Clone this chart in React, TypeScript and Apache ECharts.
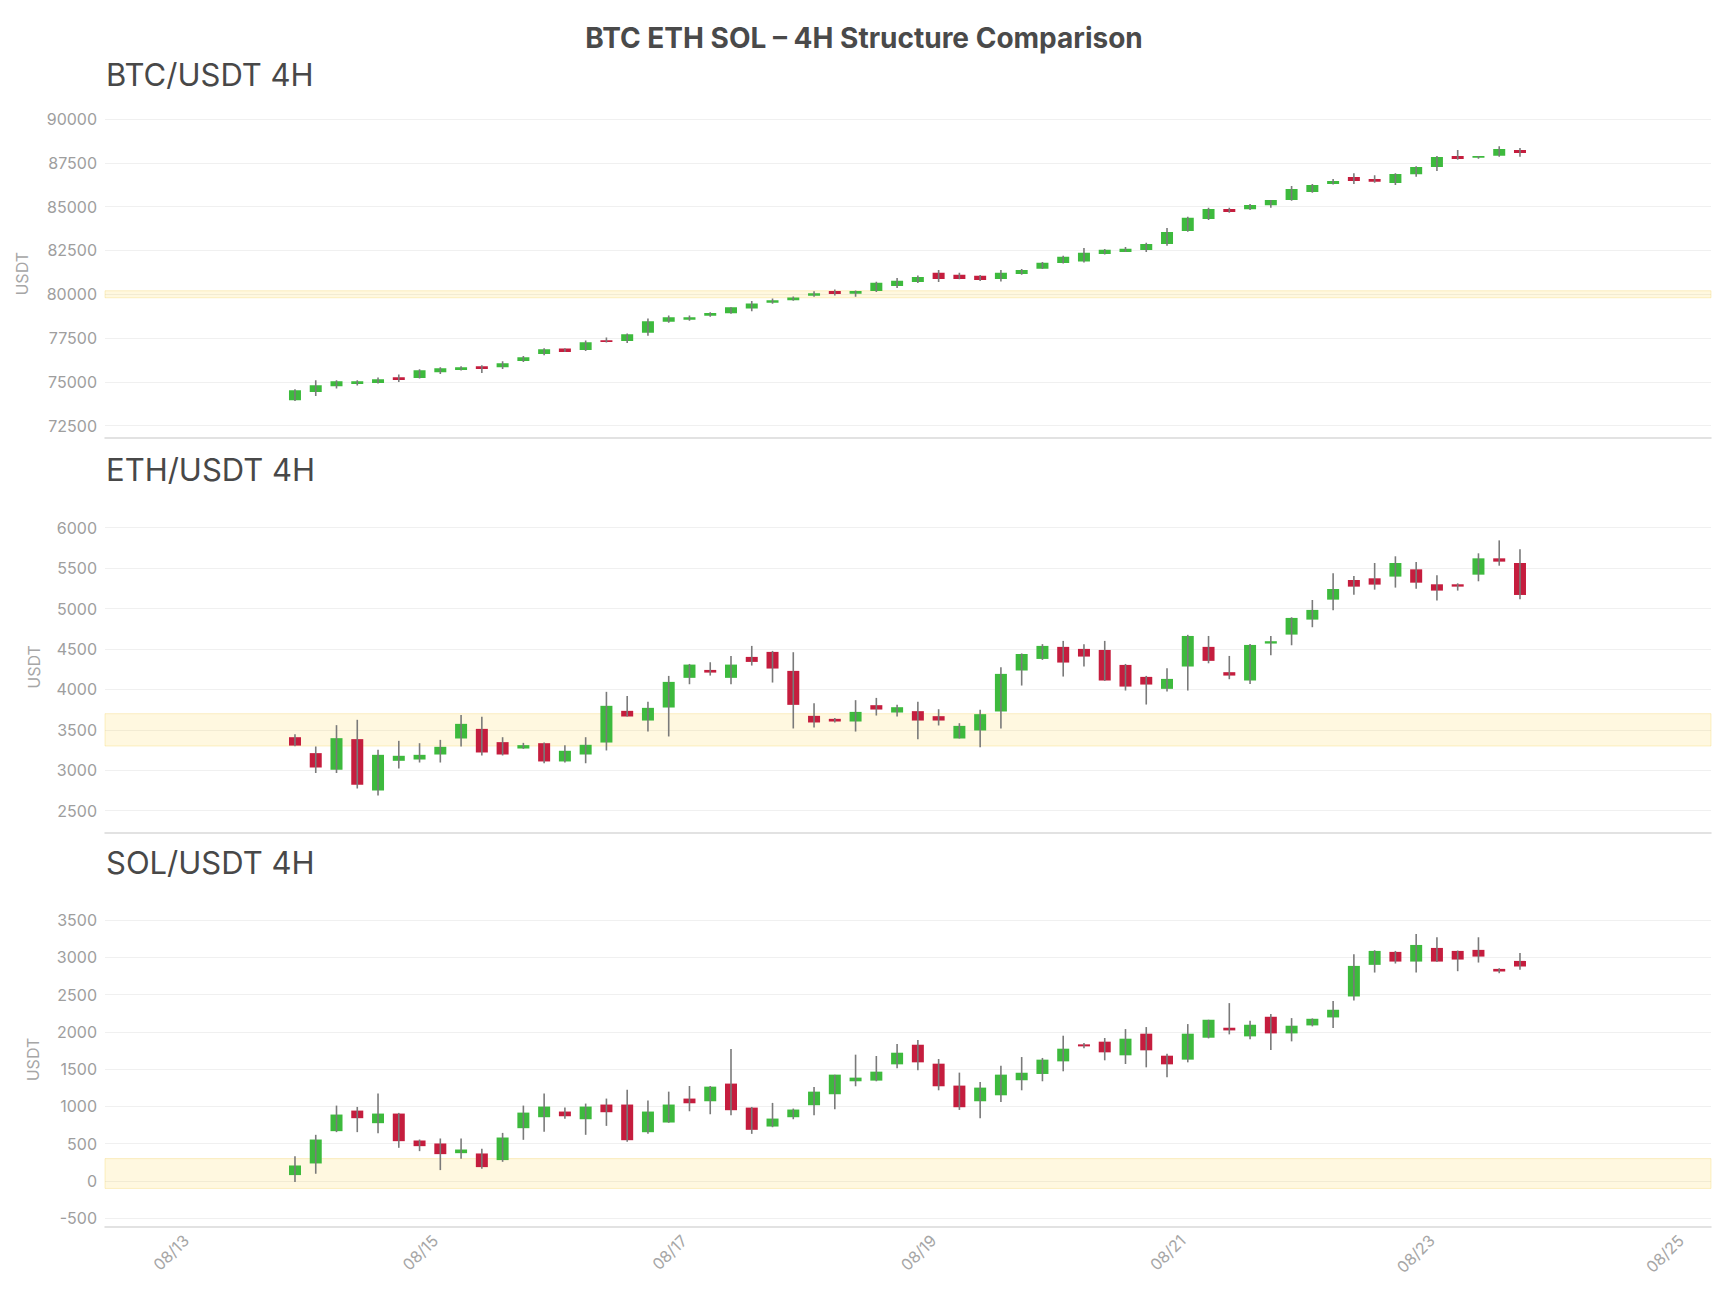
import React, { useEffect, useRef } from 'react';
import * as echarts from 'echarts';

// time: hours after 08/13 00:00, first 4H candle opens 08/13 20:00
const START_HOUR = 20;
const STEP_HOURS = 4;
const CANDLE_COUNT = 60;
const candleHours = Array.from({ length: CANDLE_COUNT }, (_, i) => START_HOUR + STEP_HOURS * i);
const xRange = [-16.6, 292.8];

const dayTickHours = [0, 48, 96, 144, 192, 240, 288];
const dayTickLabels = ['08/13', '08/15', '08/17', '08/19', '08/21', '08/23', '08/25'];

// [open, close, low, high]
const btcOHLC = [
  [73954, 74524, 73916, 74582], [74429, 74810, 74201, 75095], [74753, 75038, 74620, 75095], [74886, 75038, 74791, 75095],
  [74943, 75152, 74905, 75247], [75266, 75114, 75000, 75419], [75228, 75666, 75190, 75723], [75552, 75780, 75457, 75837],
  [75685, 75837, 75647, 75894], [75894, 75742, 75514, 75951], [75837, 76065, 75742, 76180], [76199, 76408, 76142, 76484],
  [76598, 76865, 76522, 76922], [76903, 76712, 76700, 76920], [76826, 77264, 76769, 77359], [77378, 77283, 77245, 77530],
  [77340, 77721, 77226, 77759], [77797, 78463, 77626, 78615], [78425, 78691, 78368, 78786], [78539, 78691, 78482, 78786],
  [78767, 78938, 78710, 78976], [78919, 79262, 78881, 79262], [79190, 79476, 79030, 79615], [79509, 79661, 79452, 79756],
  [79661, 79814, 79623, 79870], [79909, 80061, 79852, 80175], [80182, 80011, 79935, 80278], [80030, 80182, 79859, 80210],
  [80182, 80658, 80126, 80715], [80468, 80772, 80354, 80925], [80696, 80981, 80639, 81077], [81229, 80867, 80696, 81381],
  [81115, 80867, 80850, 81230], [81058, 80810, 80750, 81100], [80867, 81229, 80734, 81381], [81153, 81381, 81115, 81440],
  [81458, 81800, 81438, 81838], [81781, 82142, 81762, 82200], [81876, 82371, 81819, 82637], [82295, 82542, 82275, 82580],
  [82409, 82599, 82409, 82694], [82523, 82865, 82409, 82941], [82865, 83550, 82770, 83779], [83607, 84368, 83570, 84425],
  [84292, 84863, 84235, 84940], [84863, 84691, 84650, 84940], [84844, 85091, 84806, 85150], [85072, 85377, 84939, 85377],
  [85377, 86005, 85339, 86176], [85833, 86233, 85795, 86290], [86290, 86461, 86270, 86575], [86690, 86461, 86290, 86899],
  [86576, 86423, 86366, 86785], [86345, 86862, 86240, 86900], [86852, 87255, 86700, 87310], [87268, 87828, 87037, 87886],
  [87886, 87712, 87674, 88234], [87790, 87886, 87732, 87886], [87905, 88292, 87847, 88446], [88234, 88060, 87847, 88349],
];

const ethOHLC = [
  [3409, 3305, 3298, 3445], [3212, 3035, 2965, 3294], [3006, 3397, 2965, 3558], [3385, 2820, 2775, 3624],
  [2750, 3191, 2689, 3253], [3117, 3179, 3022, 3364], [3133, 3191, 3096, 3335], [3195, 3290, 3096, 3376],
  [3393, 3574, 3294, 3685], [3512, 3220, 3183, 3661], [3348, 3195, 3183, 3409], [3269, 3311, 3265, 3339],
  [3335, 3109, 3088, 3345], [3109, 3241, 3096, 3311], [3195, 3315, 3088, 3409], [3343, 3797, 3245, 3970],
  [3735, 3665, 3665, 3920], [3615, 3772, 3479, 3846], [3776, 4093, 3418, 4167], [4143, 4307, 4064, 4315],
  [4241, 4208, 4171, 4336], [4143, 4307, 4064, 4414], [4402, 4340, 4295, 4538], [4464, 4258, 4085, 4476],
  [4229, 3809, 3517, 4460], [3673, 3591, 3529, 3829], [3636, 3603, 3591, 3645], [3603, 3722, 3479, 3867],
  [3805, 3751, 3677, 3895], [3714, 3780, 3665, 3809], [3731, 3615, 3385, 3846], [3669, 3615, 3554, 3755],
  [3393, 3549, 3393, 3582], [3492, 3694, 3286, 3747], [3727, 4192, 3517, 4274], [4233, 4439, 4048, 4445],
  [4377, 4538, 4365, 4560], [4526, 4332, 4159, 4600], [4501, 4406, 4283, 4560], [4488, 4110, 4105, 4600],
  [4303, 4035, 3986, 4315], [4155, 4060, 3813, 4167], [4007, 4130, 3974, 4262], [4283, 4661, 3986, 4675],
  [4526, 4353, 4323, 4661], [4213, 4171, 4126, 4414], [4110, 4550, 4068, 4562], [4567, 4596, 4423, 4661],
  [4678, 4884, 4546, 4892], [4863, 4983, 4769, 5106], [5110, 5242, 4979, 5436], [5353, 5271, 5172, 5403],
  [5374, 5296, 5234, 5563], [5395, 5563, 5259, 5646], [5485, 5320, 5246, 5576], [5300, 5222, 5098, 5411],
  [5300, 5271, 5222, 5312], [5419, 5621, 5337, 5683], [5621, 5580, 5530, 5843], [5563, 5168, 5115, 5732],
];

const solOHLC = [
  [79, 208, -15, 333], [235, 556, 97, 619], [668, 891, 655, 1011], [944, 842, 655, 993],
  [775, 904, 641, 1172], [904, 534, 445, 913], [543, 467, 400, 556], [503, 360, 146, 570],
  [373, 422, 298, 570], [369, 186, 164, 431], [280, 583, 257, 645], [708, 917, 552, 1011],
  [855, 998, 659, 1172], [931, 868, 833, 984], [828, 998, 619, 1038], [1025, 922, 739, 1105],
  [1025, 547, 525, 1225], [654, 931, 632, 1078], [784, 1025, 780, 1198], [1105, 1042, 935, 1274],
  [1069, 1265, 895, 1274], [1306, 949, 882, 1769], [984, 686, 632, 993], [730, 837, 721, 1047],
  [855, 958, 828, 971], [1016, 1198, 882, 1261], [1163, 1426, 962, 1426], [1337, 1386, 1270, 1694],
  [1346, 1466, 1337, 1676], [1564, 1720, 1511, 1836], [1827, 1591, 1484, 1890], [1573, 1270, 1216, 1636],
  [1279, 989, 953, 1453], [1069, 1252, 842, 1328], [1149, 1426, 1060, 1546], [1350, 1453, 1216, 1662],
  [1435, 1627, 1337, 1650], [1604, 1774, 1471, 1948], [1832, 1805, 1780, 1850], [1868, 1725, 1618, 1917],
  [1685, 1908, 1569, 2037], [1975, 1752, 1524, 2064], [1680, 1564, 1390, 1707], [1627, 1975, 1591, 2104],
  [1921, 2162, 1912, 2162], [2055, 2019, 1966, 2385], [1939, 2095, 1899, 2149], [2202, 1979, 1756, 2238],
  [1979, 2082, 1872, 2184], [2086, 2175, 2073, 2180], [2193, 2296, 2050, 2412], [2474, 2884, 2421, 3041],
  [2898, 3085, 2795, 3094], [3072, 2942, 2916, 3085], [2942, 3165, 2795, 3313], [3125, 2942, 2935, 3268],
  [3085, 2969, 2813, 3090], [3099, 3009, 2929, 3268], [2844, 2809, 2786, 2853], [2951, 2876, 2831, 3058],
];

const panelTitles = ['BTC/USDT 4H', 'ETH/USDT 4H', 'SOL/USDT 4H'];
const btcTicks = [72500, 75000, 77500, 80000, 82500, 85000, 87500, 90000];
const ethTicks = [2500, 3000, 3500, 4000, 4500, 5000, 5500, 6000];
const solTicks = [-500, 0, 500, 1000, 1500, 2000, 2500, 3000, 3500];
const btcBand = [79800, 80200];
const ethBand = [3300, 3700];
const solBand = [-100, 300];
const btcRange = [71827, 90514];
const ethRange = [2228, 6330];
const solRange = [-617, 3875];

const UP = '#3dba3d';
const DOWN = '#c51d3e';
const WICK = '#7a7a7a';
const FONT = 'Inter';

export default function App() {
  const ref = useRef<HTMLDivElement>(null);

  useEffect(() => {
    if (!ref.current) return;
    const chart = echarts.init(ref.current, undefined, { renderer: 'svg' });

    const panels = [
      { title: panelTitles[0], data: btcOHLC, ticks: btcTicks, band: btcBand, range: btcRange, top: 110, height: 327.5, nameGap: 75, titleY: 74 },
      { title: panelTitles[1], data: ethOHLC, ticks: ethTicks, band: ethBand, range: ethRange, top: 501, height: 331.7, nameGap: 63, titleY: 469 },
      { title: panelTitles[2], data: solOHLC, ticks: solTicks, band: solBand, range: solRange, top: 892, height: 335, nameGap: 64, titleY: 862 },
    ];

    const renderItem = (params: any, api: any) => {
      const x = api.value(0);
      const o = api.value(1);
      const c = api.value(2);
      const l = api.value(3);
      const h = api.value(4);
      const po = api.coord([x, o]);
      const pc = api.coord([x, c]);
      const pl = api.coord([x, l]);
      const ph = api.coord([x, h]);
      const w = 12;
      const top = Math.min(po[1], pc[1]);
      const hh = Math.max(Math.abs(po[1] - pc[1]), 1.5);
      return {
        type: 'group',
        children: [
          { type: 'rect', shape: { x: po[0] - w / 2, y: top, width: w, height: hh }, style: { fill: c >= o ? UP : DOWN } },
          { type: 'line', shape: { x1: ph[0], y1: ph[1], x2: pl[0], y2: pl[1] }, style: { stroke: WICK, lineWidth: 1.6 } },
        ],
      };
    };

    const option: any = {
      animation: false,
      backgroundColor: '#ffffff',
      textStyle: { fontFamily: FONT },
      graphic: [
        {
          type: 'text', x: 864, y: 37.5,
          style: { text: 'BTC ETH SOL – 4H Structure Comparison', font: `bold 28px ${FONT}`, fill: '#4a4a4a', align: 'center', verticalAlign: 'middle' },
        },
        ...panels.map((p) => ({
          type: 'text', x: 106, y: p.titleY,
          style: { text: p.title, font: `31px ${FONT}`, fill: '#484848', align: 'left', verticalAlign: 'middle' },
        })),
      ],
      grid: panels.map((p) => ({ left: 105, right: 17, top: p.top, height: p.height, containLabel: false })),
      xAxis: panels.map((p, i) => ({
        type: 'value',
        gridIndex: i,
        min: xRange[0],
        max: xRange[1],
        axisLine: { show: true, onZero: false, lineStyle: { color: '#d9d9d9', width: 1.5 } },
        axisTick: { show: false },
        splitLine: { show: false },
        axisLabel: i === 2
          ? {
              show: true,
              customValues: dayTickHours,
              rotate: 45,
              margin: 6,
              padding: [0, 7, 0, 0],
              color: '#a6a6a6',
              fontSize: 16,
              fontFamily: FONT,
              formatter: (v: number) => dayTickLabels[dayTickHours.indexOf(v)] ?? '',
            }
          : { show: false },
      })),
      yAxis: panels.map((p, i) => ({
        type: 'value',
        gridIndex: i,
        min: p.range[0],
        max: p.range[1],
        name: 'USDT',
        nameLocation: 'middle',
        nameGap: p.nameGap,
        nameTextStyle: { color: '#a6a6a6', fontSize: 16, fontFamily: FONT },
        axisLine: { show: false },
        axisTick: { show: false, customValues: p.ticks },
        axisLabel: {
          customValues: p.ticks,
          color: '#9e9e9e',
          fontSize: 16,
          fontFamily: FONT,
          margin: 8,
          formatter: (v: number) => String(v),
        },
        splitLine: { show: true, lineStyle: { color: '#f0f0f0', width: 1 } },
      })),
      series: panels.flatMap((p, i) => [
        {
          type: 'line',
          xAxisIndex: i,
          yAxisIndex: i,
          data: [],
          silent: true,
          z: 1,
          markArea: {
            silent: true,
            itemStyle: { color: 'rgba(255, 214, 64, 0.16)', borderColor: 'rgba(240, 200, 70, 0.28)', borderWidth: 1 },
            data: [[{ yAxis: p.band[0] }, { yAxis: p.band[1] }]],
          },
        },
        {
          type: 'custom',
          xAxisIndex: i,
          yAxisIndex: i,
          z: 3,
          clip: true,
          renderItem,
          encode: { x: 0, y: [1, 2, 3, 4] },
          data: candleHours.map((t, k) => [t, ...p.data[k]]),
        },
      ]),
    };

    chart.setOption(option);
    return () => chart.dispose();
  }, []);

  return <div ref={ref} style={{ position: 'fixed', left: 0, top: 0, width: 1728, height: 1296, background: '#fff' }} />;
}
